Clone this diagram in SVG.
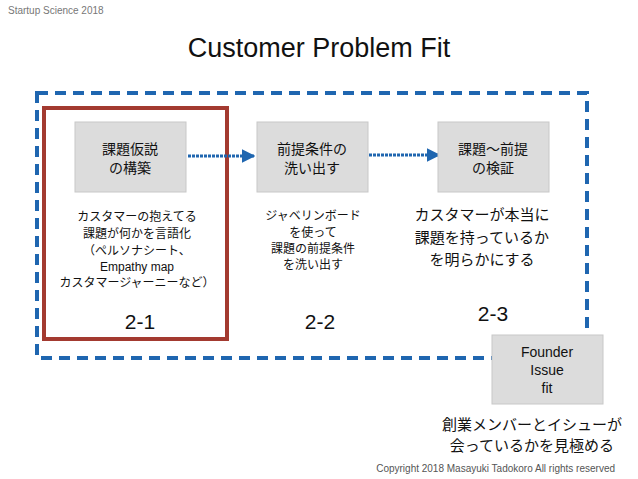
<svg xmlns="http://www.w3.org/2000/svg" width="638" height="479" viewBox="0 0 638 479">
<style>
text{font-family:"Liberation Sans","Noto Sans CJK JP",sans-serif;fill:#111;text-anchor:middle}
.node{fill:#dcdcdc;stroke:#c8c8c8;stroke-width:1}
.d{font-size:12px}
.n{font-size:14px}
.b{font-size:15px}
.num{font-size:21px}
.conn{stroke:#1f66b0;stroke-width:3;stroke-dasharray:3 1;fill:none}
</style>
<defs><marker id="ah" viewBox="0 0 10 10" refX="9" refY="5" markerWidth="4.5" markerHeight="5" orient="auto"><path d="M0,0L10,5L0,10z" fill="#1f66b0"/></marker></defs>
<rect width="638" height="479" fill="#fff"/>
<text x="8" y="14" style="font-size:10px;fill:#777;text-anchor:start">Startup Science 2018</text>
<text x="319" y="57" style="font-size:27px">Customer Problem Fit</text>
<rect x="37" y="93" width="550" height="265" fill="none" stroke="#1f66b0" stroke-width="4" stroke-dasharray="11 7"/>
<rect x="44" y="108" width="183" height="231" fill="none" stroke="#a33a30" stroke-width="4"/>
<g id="connectors">
<line class="conn" x1="188" y1="156" x2="254" y2="156" marker-end="url(#ah)"/>
<line class="conn" x1="369" y1="155" x2="439" y2="155" marker-end="url(#ah)"/>
</g>
<g id="n1"><rect class="node" x="75" y="122" width="111" height="70"/>
<text class="n" x="130" y="154">課題仮説</text><text class="n" x="130" y="173">の構築</text></g>
<g id="n2"><rect class="node" x="257" y="122" width="111" height="70"/>
<text class="n" x="312" y="154">前提条件の</text><text class="n" x="312" y="173">洗い出す</text></g>
<g id="n3"><rect class="node" x="438" y="122" width="111" height="70"/>
<text class="n" x="493" y="154">課題～前提</text><text class="n" x="493" y="173">の検証</text></g>
<g id="n4"><rect class="node" x="492" y="335" width="111" height="69"/>
<text class="n" x="547" y="357">Founder</text><text class="n" x="547" y="375">Issue</text><text class="n" x="547" y="393">fit</text></g>
<g class="d">
<text x="137" y="221">カスタマーの抱えてる</text>
<text x="137" y="238">課題が何かを言語化</text>
<text x="137" y="255">（ペルソナシート、</text>
<text x="137" y="271">Empathy map</text>
<text x="137" y="287">カスタマージャーニーなど）</text>
<text x="313" y="220">ジャベリンボード</text>
<text x="313" y="237">を使って</text>
<text x="313" y="253">課題の前提条件</text>
<text x="313" y="269">を洗い出す</text>
</g>
<g class="b">
<text x="482" y="220">カスタマーが本当に</text>
<text x="482" y="243">課題を持っているか</text>
<text x="482" y="265">を明らかにする</text>
<text x="532" y="430">創業メンバーとイシューが</text>
<text x="532" y="451">会っているかを見極める</text>
</g>
<text class="num" x="140" y="329">2-1</text>
<text class="num" x="320" y="329">2-2</text>
<text class="num" x="493" y="321">2-3</text>
<text x="615" y="472" style="font-size:10px;fill:#555;text-anchor:end">Copyright 2018 Masayuki Tadokoro All rights reserved</text>
</svg>
